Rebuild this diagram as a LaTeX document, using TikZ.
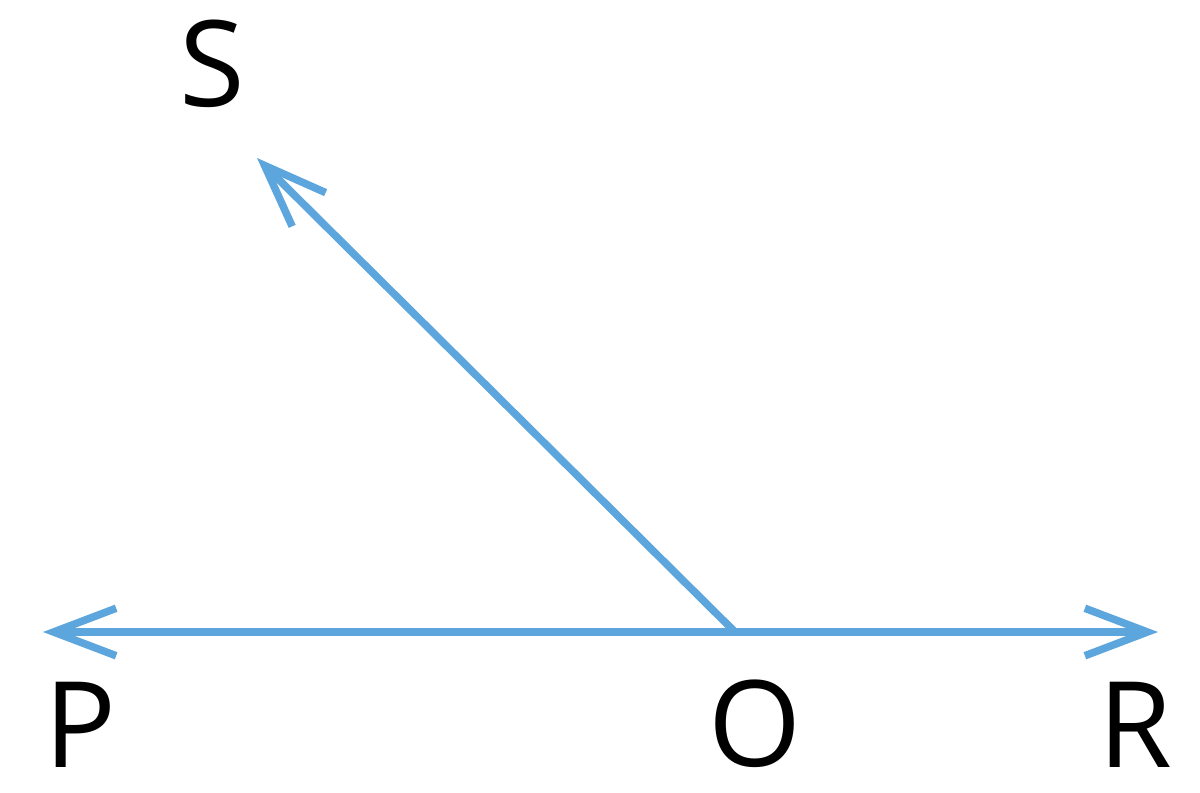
\documentclass[tikz,border=0pt]{standalone}
\usepackage{fontspec}
\setmainfont{Open Sans}
\usetikzlibrary{arrows.meta}
\definecolor{raycol}{HTML}{5DA5DD}
\tikzset{
  ray/.style={draw=raycol, line width=4.3pt, -{Straight Barb[length=1.25cm,width=0.95cm]}},
  lbl/.style={font=\fontsize{68}{80}\selectfont, inner sep=0pt}
}
\begin{document}
\begin{tikzpicture}
        \useasboundingbox (0,0) rectangle (24,15.84);

        \coordinate (o) at (14.7,3.2);
        \coordinate (p) at (0.86,3.2);
        \coordinate (r) at (23.16,3.2);
        \coordinate (s) at (5.14,12.68);

        \draw[ray] (o) to (p);
        \draw[ray] (o) to (r);
        \draw[ray] (o) to (s);

        \node[lbl] (lp) at (1.6,1.34) {P};
        \node[lbl] (lo) at (15.1,1.36) {O};
        \node[lbl] (lr) at (22.7,1.34) {R};
        \node[lbl] (ls) at (4.24,14.56) {S};
      \end{tikzpicture}
\end{document}
